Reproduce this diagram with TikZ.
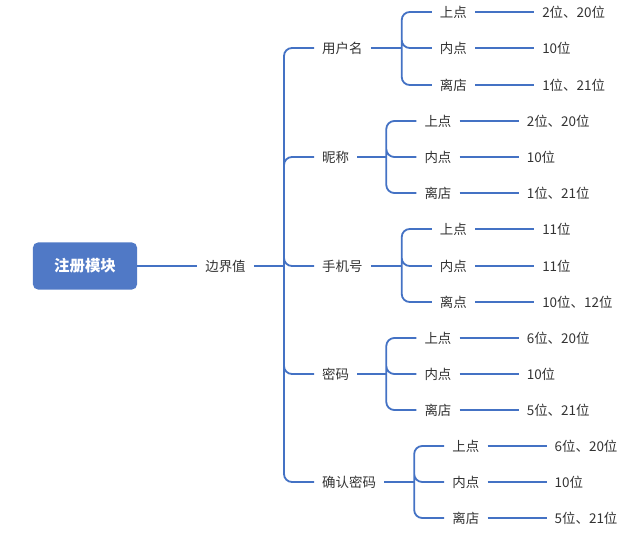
\documentclass[tikz,border=0pt]{standalone}
\usepackage{fontspec}
\setmainfont{Noto Sans CJK SC}
\usetikzlibrary{positioning}

\definecolor{mapline}{RGB}{68,114,196}
\definecolor{mapfill}{RGB}{80,121,198}
\definecolor{maptext}{RGB}{51,51,51}

\begin{document}
\begin{tikzpicture}[
    x=1bp, y=1bp,
    topic/.style={font=\fontsize{13.5}{16}\selectfont, text=maptext, inner xsep=8bp, inner ysep=2bp},
    rootbox/.style={fill=mapfill, rounded corners=5bp, minimum width=104bp, minimum height=47bp,
        text=white, font=\fontsize{15.5}{18}\selectfont\bfseries},
    link/.style={draw=mapline, line width=1.8bp},
    branch/.style={link, rounded corners=8bp}
]
\useasboundingbox (0,0) rectangle (635,-533);

% Root and first level
\node[rootbox] (root) at (85,-266) {注册模块};
\node[topic] (bjz) at (225.5,-266) {边界值};
\coordinate (bjz-j) at (284,-266);
\draw[link] (root) -- (bjz);
\draw[link] (bjz) -- (bjz-j);

% Second level (fields)
\node[topic, anchor=west] (yhm)  at (314,-48)  {用户名};
\node[topic, anchor=west] (nc)   at (314,-157) {昵称};
\node[topic, anchor=west] (sjh)  at (314,-266) {手机号};
\node[topic, anchor=west] (mm)   at (314,-374) {密码};
\node[topic, anchor=west] (qrmm) at (314,-482) {确认密码};
\draw[branch] (bjz-j) |- (yhm.west) (bjz-j) |- (nc.west) (bjz-j) |- (sjh.west)
              (bjz-j) |- (mm.west) (bjz-j) |- (qrmm.west);

% 用户名
\coordinate[right=31bp of yhm] (yhm-j);
\node[topic, anchor=west] (yhm-s) at ([shift={(30bp,36bp)}]yhm-j)  {上点};
\node[topic, anchor=west] (yhm-n) at ([shift={(30bp,0bp)}]yhm-j)   {内点};
\node[topic, anchor=west] (yhm-l) at ([shift={(30bp,-37bp)}]yhm-j) {离店};
\node[topic, right=59bp of yhm-s] (yhm-sv) {2位、20位};
\node[topic, right=59bp of yhm-n] (yhm-nv) {10位};
\node[topic, right=59bp of yhm-l] (yhm-lv) {1位、21位};
\draw[link] (yhm) -- (yhm-j);
\draw[branch] (yhm-j) |- (yhm-s.west) (yhm-j) |- (yhm-n.west) (yhm-j) |- (yhm-l.west);
\draw[link] (yhm-s) -- (yhm-sv) (yhm-n) -- (yhm-nv) (yhm-l) -- (yhm-lv);

% 昵称
\coordinate[right=29bp of nc] (nc-j);
\node[topic, anchor=west] (nc-s) at ([shift={(30bp,36bp)}]nc-j)  {上点};
\node[topic, anchor=west] (nc-n) at ([shift={(30bp,0bp)}]nc-j)   {内点};
\node[topic, anchor=west] (nc-l) at ([shift={(30bp,-36bp)}]nc-j) {离店};
\node[topic, right=59bp of nc-s] (nc-sv) {2位、20位};
\node[topic, right=59bp of nc-n] (nc-nv) {10位};
\node[topic, right=59bp of nc-l] (nc-lv) {1位、21位};
\draw[link] (nc) -- (nc-j);
\draw[branch] (nc-j) |- (nc-s.west) (nc-j) |- (nc-n.west) (nc-j) |- (nc-l.west);
\draw[link] (nc-s) -- (nc-sv) (nc-n) -- (nc-nv) (nc-l) -- (nc-lv);

% 手机号
\coordinate[right=31bp of sjh] (sjh-j);
\node[topic, anchor=west] (sjh-s) at ([shift={(30bp,37bp)}]sjh-j)  {上点};
\node[topic, anchor=west] (sjh-n) at ([shift={(30bp,0bp)}]sjh-j)   {内点};
\node[topic, anchor=west] (sjh-l) at ([shift={(30bp,-36bp)}]sjh-j) {离点};
\node[topic, right=59bp of sjh-s] (sjh-sv) {11位};
\node[topic, right=59bp of sjh-n] (sjh-nv) {11位};
\node[topic, right=59bp of sjh-l] (sjh-lv) {10位、12位};
\draw[link] (sjh) -- (sjh-j);
\draw[branch] (sjh-j) |- (sjh-s.west) (sjh-j) |- (sjh-n.west) (sjh-j) |- (sjh-l.west);
\draw[link] (sjh-s) -- (sjh-sv) (sjh-n) -- (sjh-nv) (sjh-l) -- (sjh-lv);

% 密码
\coordinate[right=29bp of mm] (mm-j);
\node[topic, anchor=west] (mm-s) at ([shift={(30bp,36bp)}]mm-j)  {上点};
\node[topic, anchor=west] (mm-n) at ([shift={(30bp,0bp)}]mm-j)   {内点};
\node[topic, anchor=west] (mm-l) at ([shift={(30bp,-36bp)}]mm-j) {离店};
\node[topic, right=59bp of mm-s] (mm-sv) {6位、20位};
\node[topic, right=59bp of mm-n] (mm-nv) {10位};
\node[topic, right=59bp of mm-l] (mm-lv) {5位、21位};
\draw[link] (mm) -- (mm-j);
\draw[branch] (mm-j) |- (mm-s.west) (mm-j) |- (mm-n.west) (mm-j) |- (mm-l.west);
\draw[link] (mm-s) -- (mm-sv) (mm-n) -- (mm-nv) (mm-l) -- (mm-lv);

% 确认密码
\coordinate[right=30bp of qrmm] (qrmm-j);
\node[topic, anchor=west] (qrmm-s) at ([shift={(30bp,36bp)}]qrmm-j)  {上点};
\node[topic, anchor=west] (qrmm-n) at ([shift={(30bp,0bp)}]qrmm-j)   {内点};
\node[topic, anchor=west] (qrmm-l) at ([shift={(30bp,-36bp)}]qrmm-j) {离店};
\node[topic, right=59bp of qrmm-s] (qrmm-sv) {6位、20位};
\node[topic, right=59bp of qrmm-n] (qrmm-nv) {10位};
\node[topic, right=59bp of qrmm-l] (qrmm-lv) {5位、21位};
\draw[link] (qrmm) -- (qrmm-j);
\draw[branch] (qrmm-j) |- (qrmm-s.west) (qrmm-j) |- (qrmm-n.west) (qrmm-j) |- (qrmm-l.west);
\draw[link] (qrmm-s) -- (qrmm-sv) (qrmm-n) -- (qrmm-nv) (qrmm-l) -- (qrmm-lv);

\end{tikzpicture}
\end{document}
